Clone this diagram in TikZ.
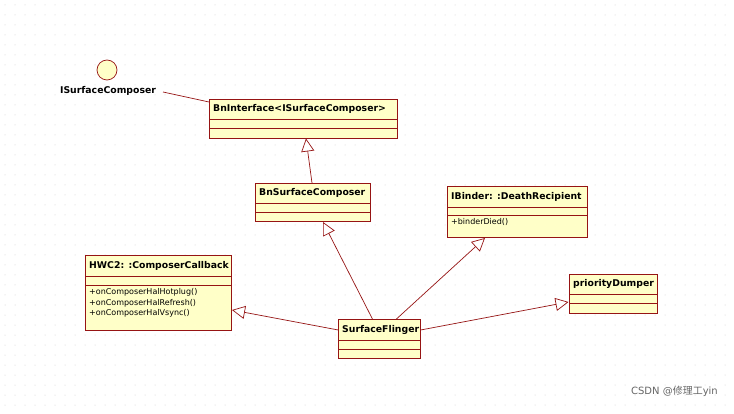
\documentclass[tikz,border=0pt]{standalone}
\usepackage{fontspec}
\setmainfont{DejaVu Sans}
\newfontfamily\cjk{Noto Sans CJK SC}
\usetikzlibrary{arrows.meta}
\definecolor{bord}{RGB}{150,20,20}
\definecolor{yel}{RGB}{255,255,200}
\begin{document}
\begin{tikzpicture}[x=1pt,y=-1pt,
  cls/.style={draw=bord,fill=yel,line width=0.9pt,anchor=north west,inner sep=0pt},
  ttl/.style={font=\bfseries\fontsize{9.3}{10}\selectfont,anchor=west,inner sep=0pt},
  op/.style={font=\fontsize{8}{10.8}\selectfont,anchor=north west,inner sep=0pt,align=left},
  gen/.style={draw=bord,line width=0.7pt,-{Triangle[open,length=13pt,width=13pt,fill=white]}}]
\useasboundingbox (0,0) rectangle (734,414);
\fill[white] (0,0) rectangle (734,414);
\foreach \i in {0,...,73}{\foreach \j in {0,...,41}{\fill[gray!40] (\i*10+5,\j*10+5) circle (0.5);}}
% circle
\node[draw=bord,fill=yel,circle,minimum size=20pt,inner sep=0pt,line width=0.7pt] (isc) at (107,70) {};
\node[ttl,anchor=center] (iscl) at (108,91) {ISurfaceComposer};
% boxes
\newcommand{\clsbox}[9]{% name x y w h div1 div2 title ops
  \node[cls,minimum width=#4pt,minimum height=#5pt] (#1) at (#2,#3) {};
  \draw[bord,line width=0.9pt] (#2,#3+#6)--(#2+#4,#3+#6) (#2,#3+#7)--(#2+#4,#3+#7);
  \node[ttl] (#1t) at (#2+4,#3+#6/2) {#8};
  \node[op] (#1o) at (#2+4,#3+#7+3) {#9};}
\clsbox{bni}{209}{99}{188}{39}{20}{29}{BnInterface<ISurfaceComposer>}{}
\clsbox{bns}{255}{183}{115}{38}{20}{29}{BnSurfaceComposer}{}
\clsbox{ib}{447}{186}{140}{51}{21}{29}{IBinder: :DeathRecipient}{+binderDied()}
\clsbox{hwc}{85}{255}{146}{75}{21}{30}{HWC2: :ComposerCallback}{+onComposerHalHotplug()\\+onComposerHalRefresh()\\+onComposerHalVsync()}
\clsbox{pd}{569}{274}{88}{39}{20}{29}{priorityDumper}{}
\clsbox{sf}{338}{319}{82}{39}{21}{30}{SurfaceFlinger}{}
% connectors
\coordinate (l0) at (163,92);
\draw[bord,line width=0.7pt] (l0) -- (bni.north west|-0,102);
\coordinate (a1) at (312,183); \coordinate (b1) at (306,138.5);
\draw[gen] (a1) -- (b1);
\draw[gen] (sf.north)++(-7,0) -- (323,222);
\draw[gen] (sf.north)++(17,0) -- (485,238);
\draw[gen] (sf.west)++(0,-9) -- (232,310);
\draw[gen] (sf.east)++(0,-9) -- (568.5,302);
\node[font=\fontsize{10}{11}\selectfont,text=gray!80!black,anchor=east,inner sep=0pt] (csdn) at (718,391) {CSDN @{\cjk 修理工}yin};
\end{tikzpicture}
\end{document}
